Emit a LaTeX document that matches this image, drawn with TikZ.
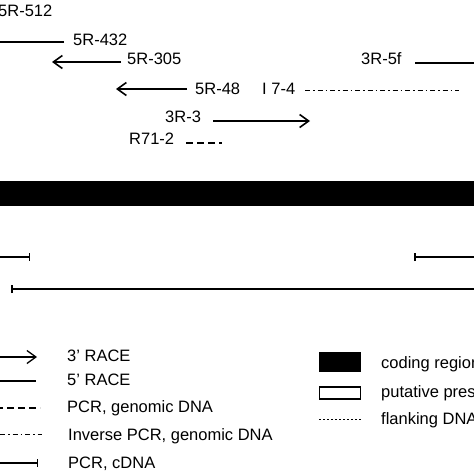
\documentclass[tikz,border=0pt]{standalone}
\usepackage{fontspec}
\setmainfont{Liberation Sans}
\usetikzlibrary{arrows.meta}
\begin{document}
\begin{tikzpicture}[x=1pt,y=-1pt,
  lbl/.style={anchor=base west,inner sep=0pt,font=\fontsize{16.5}{19}\selectfont},
  race/.style={line width=1.9pt},
  racelg/.style={line width=1.2pt},
  barb/.style={-{Straight Barb[length=9pt,width=13pt,line width=1.6pt]}},
  gdash/.style={line width=2.6pt,dash pattern=on 7pt off 4pt},
  ipcr/.style={line width=0.9pt,dash pattern=on 5pt off 3pt on 1.5pt off 3pt},
  cdna/.style={line width=1.5pt,-{Bar[width=8pt,line width=1.5pt]}},
  cdnab/.style={line width=1.5pt,{Bar[width=8pt,line width=1.5pt]}-},
  flank/.style={line width=0.8pt,dash pattern=on 1.5pt off 2.5pt}]
\useasboundingbox (0,0) rectangle (474,474);
\clip (0,0) rectangle (474,474);
% primer labels
\node[lbl] (l512) at (-2,16) {5R-512};
\node[lbl] (l432) at (73,45) {5R-432};
\node[lbl] (l305) at (127,64) {5R-305};
\node[lbl] (l48) at (195,94) {5R-48};
\node[lbl] (l74) at (262,94) {I 7-4};
\node[lbl] (l5f) at (361,64) {3R-5f};
\node[lbl] (l33) at (165,122) {3R-3};
\node[lbl] (l712) at (129,144) {R71-2};
% primer lines
\coordinate (a432s) at (64,42); \coordinate (a432e) at (-20,42);
\draw[race,barb] (a432s) -- (a432e);
\coordinate (a305s) at (121,62); \coordinate (a305e) at (52,62);
\draw[race,barb] (a305s) -- (a305e);
\coordinate (a48s) at (187,89); \coordinate (a48e) at (116,89);
\draw[race,barb] (a48s) -- (a48e);
\coordinate (a5fs) at (415,63); \coordinate (a5fe) at (480,63);
\draw[race] (a5fs) -- (a5fe);
\coordinate (a74s) at (305,90); \coordinate (a74e) at (459,90);
\draw[ipcr] (a74s) -- (a74e);
\coordinate (a33s) at (213,121); \coordinate (a33e) at (310,121);
\draw[race,barb] (a33s) -- (a33e);
\coordinate (a712s) at (186,143); \coordinate (a712e) at (222,143);
\draw[gdash] (a712s) -- (a712e);
% coding bar
\fill (-5,181) rectangle (480,206);
% cDNA segments
\coordinate (c1s) at (-10,257); \coordinate (c1e) at (30,257);
\draw[cdna] (c1s) -- (c1e);
\coordinate (c2s) at (414,257); \coordinate (c2e) at (480,257);
\draw[cdnab] (c2s) -- (c2e);
\coordinate (c3s) at (11,289); \coordinate (c3e) at (480,289);
\draw[cdnab] (c3s) -- (c3e);
% legend left
\coordinate (g1s) at (-5,357); \coordinate (g1e) at (37,357);
\draw[racelg,-{Straight Barb[length=9pt,width=13pt,line width=1.3pt]}] (g1s) -- (g1e);
\node[lbl] (t1) at (67,361) {3' RACE};
\coordinate (g2s) at (-5,381); \coordinate (g2e) at (36,381);
\draw[racelg] (g2s) -- (g2e);
\node[lbl] (t2) at (67,385) {5' RACE};
\coordinate (g3s) at (-4,408); \coordinate (g3e) at (40,408);
\draw[gdash] (g3s) -- (g3e);
\node[lbl] (t3) at (67,412) {PCR, genomic DNA};
\coordinate (g4s) at (0,434); \coordinate (g4e) at (42,434);
\draw[ipcr] (g4s) -- (g4e);
\node[lbl] (t4) at (68,440) {Inverse PCR, genomic DNA};
\coordinate (g5s) at (-5,463); \coordinate (g5e) at (38,463);
\draw[cdna] (g5s) -- (g5e);
\node[lbl] (t5) at (68,468) {PCR, cDNA};
% legend right
\fill (319,352) rectangle (361,372);
\node[lbl] (t6) at (381,368) {coding region};
\draw[line width=1.2pt] (319.5,387) rectangle (360.5,399);
\node[lbl] (t7) at (381,397) {putative pres};
\coordinate (g8s) at (319,419); \coordinate (g8e) at (361,419);
\draw[flank] (g8s) -- (g8e);
\node[lbl] (t8) at (381,424) {flanking DNA};
\end{tikzpicture}
\end{document}
